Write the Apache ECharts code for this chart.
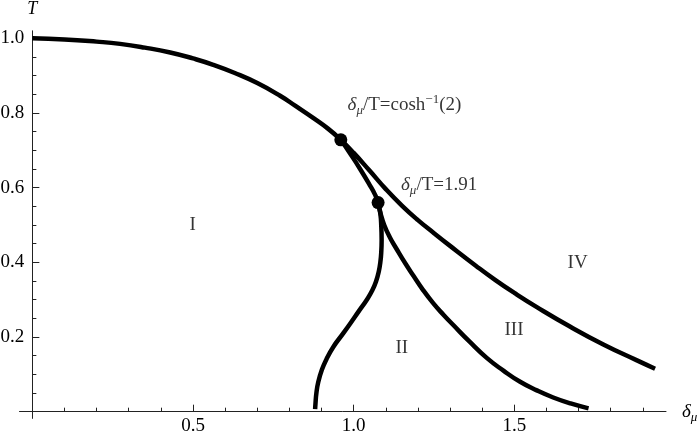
<!DOCTYPE html>
<html><head><meta charset="utf-8">
<script src="https://cdn.jsdelivr.net/npm/echarts@6/dist/echarts.min.js"></script>
<style>html,body{margin:0;padding:0;background:#fff}#c{width:700px;height:436px}</style>
</head><body><div id="c"></div>
<script>
// ---- data ----
const xMajorTicks = [0.5, 1.0, 1.5];
const xMinorTicks = [0.1,0.2,0.3,0.4,0.6,0.7,0.8,0.9,1.1,1.2,1.3,1.4,1.6,1.7,1.8,1.9];
const yMajorTicks = [0.2, 0.4, 0.6, 0.8, 1.0];
const yMinorTicks = [0.05,0.1,0.15,0.25,0.3,0.35,0.45,0.5,0.55,0.65,0.7,0.75,0.85,0.9,0.95];

const outerCurve = [
  [0,1.0],[0.1,0.997],[0.2,0.991],[0.273,0.985],[0.35,0.975],[0.429,0.962],[0.5,0.946],
  [0.563,0.929],[0.63,0.907],[0.7,0.880],[0.771,0.846],[0.82,0.818],[0.875,0.786],
  [0.92,0.758],[0.96,0.728],[1.0,0.693],[1.05,0.645],[1.10,0.596],[1.15,0.552],[1.20,0.513],
  [1.25,0.478],[1.30,0.444],[1.38,0.391],[1.44,0.353],[1.50,0.318],[1.57,0.280],
  [1.673,0.228],[1.777,0.180],[1.88,0.138],[1.938,0.115]
];
const firstOrderCurve = [
  [0.96,0.728],[0.99,0.690],[1.02,0.650],[1.05,0.607],[1.066,0.582],[1.076,0.560],
  [1.083,0.530],[1.086,0.495],[1.087,0.46],[1.086,0.43],[1.083,0.40],[1.078,0.375],
  [1.070,0.350],[1.058,0.325],[1.041,0.300],[1.015,0.268],[0.99,0.237],[0.965,0.207],
  [0.937,0.174],[0.915,0.14],[0.901,0.112],[0.89,0.08],[0.884,0.05],[0.881,0.02],[0.880,0.007]
];
const branchCurve = [
  [1.076,0.560],[1.084,0.530],[1.095,0.500],[1.112,0.468],[1.134,0.435],[1.16,0.398],
  [1.186,0.364],[1.215,0.327],[1.248,0.290],[1.28,0.259],[1.31,0.232],[1.36,0.188],
  [1.414,0.144],[1.466,0.110],[1.518,0.080],[1.57,0.057],[1.621,0.038],[1.675,0.022],
  [1.731,0.009]
];
const specialPoints = [[0.960,0.728],[1.076,0.560]];
const regionLabels = [
  {value:[0.499,0.500], text:'I'},
  {value:[1.150,0.170], text:'II'},
  {value:[1.499,0.219], text:'III'},
  {value:[1.697,0.399], text:'IV'}
];
const pointLabels = [
  {value:[1.158,0.821], text:'{d|δ}{s|μ}{n|/T=cosh}{p|−1}{n|(2)}'},
  {value:[1.266,0.607], text:'{d|δ}{s|μ}{n|/T=1.91}'}
];

// ---- chart ----
const FONT = 'Liberation Serif';
const richText = {
  n:{fontFamily:FONT,fontSize:19,color:'#000',lineHeight:24,verticalAlign:'middle'},
  d:{fontFamily:FONT,fontSize:19,fontStyle:'italic',color:'#000',lineHeight:24,verticalAlign:'middle'},
  s:{fontFamily:FONT,fontSize:13,fontStyle:'italic',color:'#000',lineHeight:12,verticalAlign:'bottom'},
  p:{fontFamily:FONT,fontSize:13,color:'#000',lineHeight:12,verticalAlign:'top'}
};
const axisColor = '#222';
const chart = echarts.init(document.getElementById('c'), null, {renderer:'canvas'});
const lineStyle = {color:'#000', width:4.5, cap:'butt', join:'round'};
const X_MIN = -0.04, X_MAX = 1.972, Y_MIN = -0.018, Y_MAX = 1.02;
const G = {left:19.5, right:34, top:30.8, bottom:17.6};
const W = 700 - G.left - G.right, H = 436 - G.top - G.bottom;
// shift axes from the grid edges onto the zero lines
const xOffset = -H * (0 - Y_MIN) / (Y_MAX - Y_MIN);
const yOffset = -W * (0 - X_MIN) / (X_MAX - X_MIN);
const xCommon = {type:'value', min:X_MIN, max:X_MAX, splitLine:{show:false}, gridIndex:0, position:'bottom', offset:xOffset};
const yCommon = {type:'value', min:Y_MIN, max:Y_MAX, splitLine:{show:false}, gridIndex:0, position:'left', offset:yOffset};

chart.setOption({
  animation:false,
  backgroundColor:'#fff',
  grid:Object.assign({outerBoundsMode:'none', containLabel:false}, G),
  xAxis:[
    Object.assign({}, xCommon, {
      axisLine:{show:true, onZero:false, lineStyle:{color:axisColor,width:1}},
      axisTick:{show:true, inside:true, length:7, customValues:xMajorTicks, lineStyle:{color:axisColor}},
      axisLabel:{show:true, customValues:xMajorTicks, margin:5, formatter:v=>v.toFixed(1),
        fontFamily:FONT, fontSize:19, color:'#000'},
      name:'{d|δ}{s|μ}', nameLocation:'end', nameGap:16,
      nameTextStyle:{rich:richText, align:'left', verticalAlign:'middle'}
    }),
    Object.assign({}, xCommon, {
      axisLine:{show:false, onZero:false},
      axisTick:{show:true, inside:true, length:4, customValues:xMinorTicks, lineStyle:{color:axisColor}},
      axisLabel:{show:false}
    })
  ],
  yAxis:[
    Object.assign({}, yCommon, {
      axisLine:{show:true, onZero:false, lineStyle:{color:axisColor,width:1}},
      axisTick:{show:true, inside:true, length:7, customValues:yMajorTicks, lineStyle:{color:axisColor}},
      axisLabel:{show:true, customValues:yMajorTicks, margin:8, formatter:v=>v.toFixed(1),
        fontFamily:FONT, fontSize:19, color:'#000'},
      name:'T', nameLocation:'end', nameGap:13,
      nameTextStyle:{fontFamily:FONT, fontStyle:'italic', fontSize:18, color:'#000'}
    }),
    Object.assign({}, yCommon, {
      axisLine:{show:false, onZero:false},
      axisTick:{show:true, inside:true, length:4, customValues:yMinorTicks, lineStyle:{color:axisColor}},
      axisLabel:{show:false}
    })
  ],
  series:[
    {type:'line', data:outerCurve, showSymbol:false, smooth:0.5, lineStyle, z:3, silent:true},
    {type:'line', data:firstOrderCurve, showSymbol:false, smooth:0.5, lineStyle, z:3, silent:true},
    {type:'line', data:branchCurve, showSymbol:false, smooth:0.5, lineStyle, z:3, silent:true},
    {type:'scatter', data:specialPoints, symbolSize:13, itemStyle:{color:'#000', opacity:1}, z:5, silent:true},
    {type:'scatter', data:regionLabels, symbolSize:0, silent:true,
      label:{show:true, position:'inside', formatter:p=>p.data.text, fontFamily:FONT, fontSize:19, color:'#000'}},
    {type:'scatter', data:pointLabels, symbolSize:0, silent:true,
      label:{show:true, position:'inside', formatter:p=>p.data.text, rich:richText}}
  ]
});
</script></body></html>
